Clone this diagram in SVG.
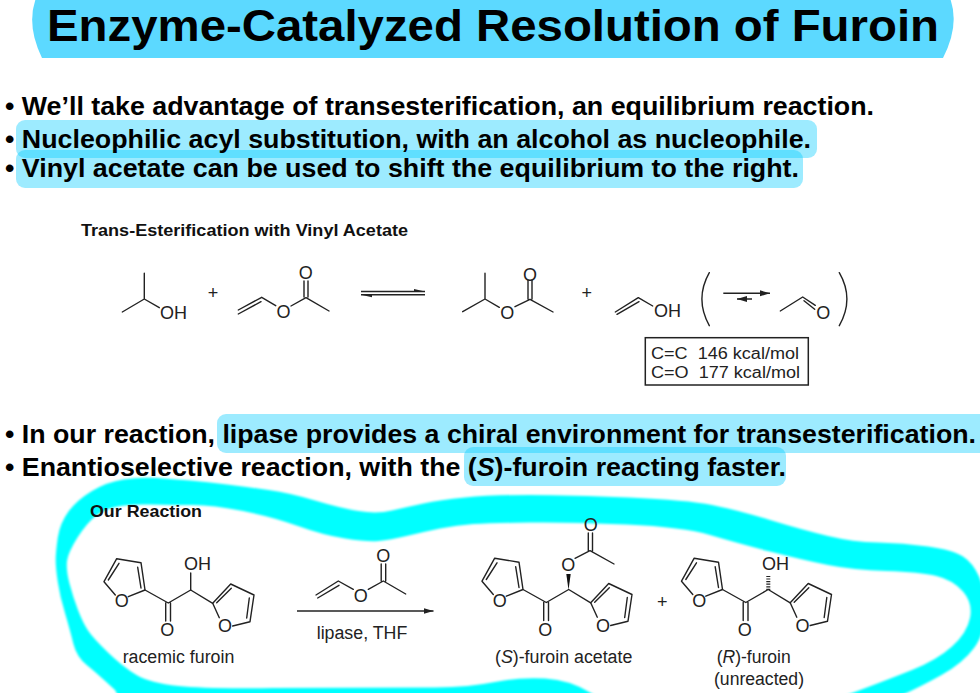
<svg xmlns="http://www.w3.org/2000/svg" xmlns:xlink="http://www.w3.org/1999/xlink" width="980" height="693" viewBox="0 0 980 693">
<style>
text{font-family:"Liberation Sans",Arial,sans-serif;fill:#000}
.h{font-weight:bold;font-size:26px}
.sub{font-weight:bold;font-size:16.5px;fill:#111}
.l{font-size:18px;fill:#222}
.e{font-size:16px;fill:#222}
.m{text-anchor:middle}
.b{fill:none;stroke:#222;stroke-width:1.4;stroke-linecap:round;stroke-linejoin:round}
.hl{fill:#00CBFF;fill-opacity:.385}
.a{fill:none;stroke:#222;stroke-width:1.5}
</style>
<defs>
<filter id="soft" filterUnits="userSpaceOnUse" x="-20" y="440" width="1040" height="300">
<feGaussianBlur stdDeviation="1"/>
</filter>
<marker id="head" markerUnits="userSpaceOnUse" markerWidth="11" markerHeight="7" refX="10" refY="3" orient="auto"><path d="M0,0L10,3L0,6Z" fill="#222"/></marker>
<g id="core">
<path class="b" d="M128.3,596.7L145,590L141,562.7L116.7,558.7L104,581.7L115.3,595M108.3,580L119,563.3M137.7,567.3L141,588"/>
<path class="b" d="M145,590L168.3,603L190.7,590L212.7,603.3M165.7,603V621M170.5,603V621"/>
<path class="b" d="M212.7,603.3L230.7,584L254,595L250,621.7L232.7,626M212.7,603.3L219.3,617.7M216.7,602.7L231.3,588.3M249.3,598L246.7,618"/>
</g>
</defs>
<rect width="980" height="693" fill="#fff"/>
<g id="highlights">
<path d="M36,-2L950,-2Q960,25 943,58L42,58Q26,25 36,-2Z" fill="#5CD9FF"/>
<rect class="hl" x="16" y="120" width="801" height="38" rx="9"/>
<rect class="hl" x="16" y="150" width="787" height="38" rx="9"/>
<rect class="hl" x="217" y="414" width="775" height="39" rx="9"/>
<rect class="hl" x="464" y="447" width="322" height="39" rx="9"/>
</g>
<path id="loop" filter="url(#soft)" fill="#00FFFF" fill-rule="evenodd" d="M55.7,560Q55.7,552 57.8,537.5Q60,523 68.5,511.5Q77,500 92,491Q107,482 123.5,479.5Q140,477 156.5,478Q173,479 190,480.5Q207,482 227,484.5Q247,487 268.5,490Q290,493 315,500.5Q340,508 358.5,511Q377,514 392,510.5Q407,507 423.5,503.5Q440,500 465,497.5Q490,495 530,495Q570,495 628.5,497.5Q687,500 712,505Q737,510 770,520Q803,530 828,536Q853,542 878,542.5Q903,543 928,546.5Q953,550 963,556.5Q973,563 979,576.5Q985,590 985,611.5Q985,633 974,648Q963,663 941.5,675Q920,687 900,696Q880,705 800,705L123,705L115,690Q96.7,673 86.7,665Q76.7,657 73.3,643.5Q70,630 65,613Q60,597 57.8,582Q55.7,568 55.7,560Z
M67,561Q68.3,552 77.5,537.5Q87,523 95,516.5Q103,510 115,507Q127,504 150,504.5Q173,505 193,505Q213,505 243,511Q273,517 298,526Q323,535 345,538.5Q367,542 378.5,541Q390,540 406.5,536Q423,532 440,528.5Q457,525 473.5,524Q490,523 530,522.5Q570,522 626.5,524.5Q683,527 710,535Q737,543 770,551.5Q803,560 828,565Q853,570 886.5,571Q920,572 936.5,576Q953,580 963,591.5Q973,603 970,618Q967,633 952,646.5Q937,660 912,670Q887,680 853.5,692.5Q820,705 800,705L620,705Q610,705 590,692.5Q570,680 545,678.5Q520,677 495,682Q470,687 435,687.5L273,688Q207,689 178.5,686Q150,683 136.5,675Q123,667 108,652.5Q93,638 88,630.5Q83,623 78,610Q73,597 69.5,583.5Q66,570 67,561Z"/>
<g id="title"><text x="47" y="41" font-size="45" font-weight="bold" textLength="892" lengthAdjust="spacingAndGlyphs">Enzyme-Catalyzed Resolution of Furoin</text></g>
<g id="bullets">
<text class="h" x="5" y="115" textLength="869" lengthAdjust="spacingAndGlyphs">• We’ll take advantage of transesterification, an equilibrium reaction.</text>
<text class="h" x="5" y="148" textLength="806" lengthAdjust="spacingAndGlyphs">• Nucleophilic acyl substitution, with an alcohol as nucleophile.</text>
<text class="h" x="5" y="177" textLength="794" lengthAdjust="spacingAndGlyphs">• Vinyl acetate can be used to shift the equilibrium to the right.</text>
<text class="h" x="5" y="443" textLength="971" lengthAdjust="spacingAndGlyphs">• In our reaction, lipase provides a chiral environment for transesterification.</text>
<text class="h" x="5" y="476" textLength="781" lengthAdjust="spacingAndGlyphs">• Enantioselective reaction, with the (<tspan font-style="italic">S</tspan>)-furoin reacting faster.</text>
</g>
<text id="heading-trans" class="sub" x="81" y="236" textLength="327" lengthAdjust="spacingAndGlyphs">Trans-Esterification with Vinyl Acetate</text>
<text id="heading-our" class="sub" x="90" y="517" textLength="112" lengthAdjust="spacingAndGlyphs">Our Reaction</text>
<g id="isopropanol">
<path class="b" d="M144.3,273.3V299L122.3,312M144.3,299L159.3,307.7"/>
<text class="l" x="160" y="319">OH</text>
</g>
<text class="l m" x="213" y="299">+</text>
<g id="vinyl-acetate">
<path class="b" d="M238.3,310L261.7,297.3L275.7,305.7M238.3,314L261,301.7M291,306L306,297.7L329,311M304,297V281M308,297V281"/>
<text class="l m" x="283.5" y="317.5">O</text>
<text class="l m" x="305.7" y="278.5">O</text>
</g>
<g id="isopropyl-acetate">
<path class="b" d="M485,273.3V299L462.7,311.7M485,299L499.3,307.3M515,306.7L530,299.3L553,312M528,299V280M532,299V280"/>
<text class="l m" x="507.3" y="318.5">O</text>
<text class="l m" x="530" y="280.5">O</text>
</g>
<text class="l m" x="586.7" y="299">+</text>
<g id="vinyl-alcohol">
<path class="b" d="M615.3,312L638.3,297.7L652.7,306M617,314.3L639,301.7"/>
<text class="l" x="654" y="317">OH</text>
</g>
<g id="acetaldehyde">
<path class="b" d="M780.3,311L802.7,297L815.3,305.3M804,300.7L814.7,309.3"/>
<text class="l m" x="823.3" y="318.5">O</text>
</g>
<g id="parens">
<path class="b" d="M709.3,272.7Q694.5,299 709.3,325.7M839.3,272.7Q854.5,299 839.3,325.7"/>
</g>
<g id="bond-energies">
<rect x="645.3" y="337.7" width="163" height="47.3" fill="#fff" stroke="#222" stroke-width="1.5"/>
<text class="e" xml:space="preserve"><tspan x="651" y="359.4" textLength="148" lengthAdjust="spacingAndGlyphs">C=C  146 kcal/mol</tspan><tspan x="651" y="378.2" textLength="149" lengthAdjust="spacingAndGlyphs">C=O  177 kcal/mol</tspan></text>
</g>
<g id="connectors">
<path d="M361,291.5H425" stroke="#222" stroke-width="1.4"/>
<path d="M425,291.5L414,289V291.5Z" fill="#222"/>
<path d="M361,294.7H425" stroke="#222" stroke-width="1.4"/>
<path d="M361,294.7L372,297.2V294.7Z" fill="#222"/>
<path class="a" d="M723.3,293.3H770" marker-end="url(#head)"/>
<path class="a" d="M752,299H737" marker-end="url(#head)"/>
<path class="a" d="M297,611H433.5" marker-end="url(#head)"/>
</g>
<g id="racemic-furoin">
<use xlink:href="#core" href="#core"/>
<path class="b" d="M190.7,590V573"/>
<text class="l" x="184" y="569.5">OH</text>
<text class="l m" x="121.7" y="606.5">O</text>
<text class="l m" x="167.3" y="635.5">O</text>
<text class="l m" x="225" y="632">O</text>
<text class="l" x="122.7" y="663" textLength="111.6" lengthAdjust="spacingAndGlyphs">racemic furoin</text>
</g>
<g id="reagent">
<path class="b" d="M316,595L338.3,581L353.3,589.3M317.7,598L339,585.3M368.3,589.3L383.3,581L405.7,594M381.2,581V564M385.7,581V564"/>
<text class="l m" x="360.7" y="601.5">O</text>
<text class="l m" x="383.3" y="561.5">O</text>
<text class="l" x="316.7" y="639" textLength="90.6" lengthAdjust="spacingAndGlyphs">lipase, THF</text>
</g>
<g id="s-furoin-acetate">
<use xlink:href="#core" href="#core" x="378" y="-0.5"/>
<path d="M568.5,590L566.3,574H570.7Z" fill="#111"/>
<path class="b" d="M575,558.3L590,550.7L614,564M588.3,551V533M592.5,551V533"/>
<text class="l m" x="568.3" y="570.5">O</text>
<text class="l m" x="590.7" y="530.5">O</text>
<text class="l m" x="499.7" y="606.5">O</text>
<text class="l m" x="545.3" y="635.5">O</text>
<text class="l m" x="603" y="632">O</text>
<text class="l" x="495" y="663" textLength="137.3" lengthAdjust="spacingAndGlyphs">(<tspan font-style="italic">S</tspan>)-furoin acetate</text>
</g>
<text class="l m" x="662.3" y="608">+</text>
<g id="r-furoin">
<use xlink:href="#core" href="#core" x="577.5" y="-0.5"/>
<path d="M768.3,590V576" stroke="#222" stroke-width="4" stroke-dasharray="1.2 1.4" fill="none"/>
<text class="l" x="762" y="569.5">OH</text>
<text class="l m" x="699.2" y="606.5">O</text>
<text class="l m" x="744.8" y="635.5">O</text>
<text class="l m" x="802.5" y="632">O</text>
<text class="l" x="716.7" y="663" textLength="74" lengthAdjust="spacingAndGlyphs">(<tspan font-style="italic">R</tspan>)-furoin</text>
<text class="l" x="714" y="684.5" textLength="90" lengthAdjust="spacingAndGlyphs">(unreacted)</text>
</g>
</svg>
